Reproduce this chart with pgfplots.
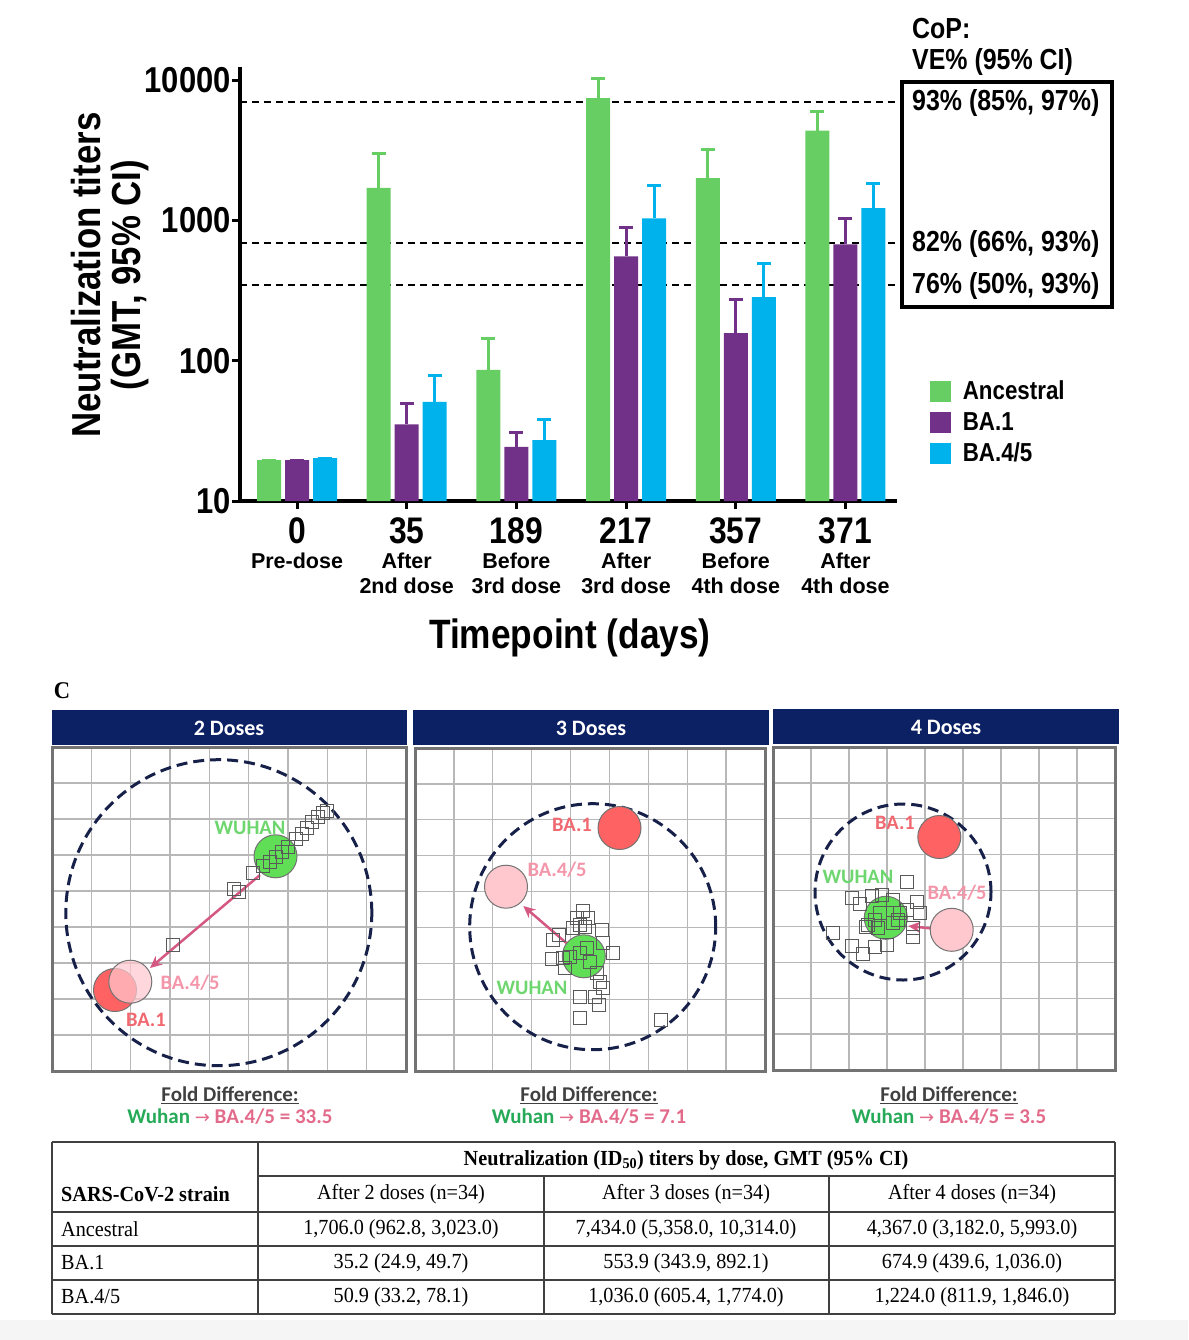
\documentclass[border=0pt]{standalone}
\usepackage{fontspec}
\setmainfont{Liberation Serif}
\newfontfamily\cnd[FakeStretch=0.86]{Liberation Sans}
\newfontfamily\arial{Liberation Sans}
\newfontfamily\calib{Carlito}
\newfontfamily\tms[FakeStretch=0.94]{Liberation Serif}
\newfontfamily\dejavu{DejaVu Sans}
\usepackage{pgfplots}
\pgfplotsset{compat=1.18}
\usepackage{pgfplotstable}
\usetikzlibrary{arrows.meta}

\definecolor{cgreen}{RGB}{102,206,98}
\definecolor{cpurple}{RGB}{113,49,137}
\definecolor{cblue}{RGB}{0,178,236}
\definecolor{hnavy}{RGB}{12,32,100}
\definecolor{cnavy}{RGB}{22,32,72}
\definecolor{wgreen}{RGB}{96,222,86}
\definecolor{bared}{RGB}{255,98,98}
\definecolor{bapink}{RGB}{255,200,206}
\definecolor{lgreen}{RGB}{110,214,110}
\definecolor{lred}{RGB}{240,104,112}
\definecolor{lpink}{RGB}{244,150,170}
\definecolor{apink}{RGB}{212,88,130}
\definecolor{fgreen}{RGB}{38,170,88}
\definecolor{fpink}{RGB}{226,106,138}

% GMT and upper 95% CI, per timepoint
\pgfplotstableread{
x g    gu    p     pu    b    bu
0 19.6 19.6  19.6  19.6  20.2 20.2
1 1706 3023  35.2  49.7  50.9 78.1
2 86   145   24.3  31    27.2 38.4
3 7434 10314 553.9 892.1 1036 1774
4 2004 3177  157   271   284  497
5 4367 5993  674.9 1036  1224 1846
}\titers

% antigenic map positions (sera), read from the maps
\pgfplotstableread{
x y
173.3 945
234 889.3
239 892.3
253.3 873.3
262.7 866
270 861.7
275.7 856.7
281.7 852.3
288.3 846.7
296 839.3
301.7 834.3
306.7 828.3
312.3 821.7
318.3 816.7
323.3 813.3
326.7 810.7
}\seratwo
\pgfplotstableread{
x y
582.7 910.7
576.7 918.3
588.3 918.3
580 925
585 926.7
573.3 928.3
601.7 930
559.3 935
553.3 940
603.3 943.3
613.3 953.3
551.7 959.3
563.3 958.3
586.7 948.3
580 953.3
590 961.7
570 956.7
565 968.3
596.7 973.3
600 981.7
602.7 988.3
580 996.7
595 996.7
599.3 1005
580 1018.3
660.7 1020
}\serathree
\pgfplotstableread{
x y
906.7 881.7
851.7 898.3
860 904
871.7 896
881.7 895
892.7 900
916.7 901.7
920 913.3
868.3 925
866 926.7
875 920
880 913.3
900 913.3
906.7 910
913.3 928.3
913.3 936.7
833.3 933.3
851.7 945.7
863.3 954
875 946.7
886.7 945
893.3 923.3
878.3 928.3
898.3 920
}\serafour

\newcommand\fnum{\cnd\bfseries\fontsize{37}{30}\selectfont}
\newcommand\lab[1]{{\calib\bfseries\fontsize{20.5}{22}\selectfont #1}}

\pgfplotsset{
  mapaxis/.style={scale only axis, y dir=reverse, grid=major,
    grid style={black!28, line width=1.3pt},
    axis line style={black!55, line width=3pt},
    xticklabel=\empty, yticklabel=\empty, major tick length=0pt},
  serum/.style={only marks, mark=square, mark size=6.5pt,
    mark options={draw=black!65, line width=1pt}},
  antigen/.style={only marks, mark=*, mark size=21.5pt,
    mark options={fill=#1, draw=black!55, line width=1pt}},
  antigenfaded/.style={only marks, mark=*, mark size=21.5pt,
    mark options={fill=#1, draw=black!55, line width=1pt, fill opacity=0.72}},
  zone/.style={only marks, mark=o, mark size=#1,
    mark options={draw=cnavy, line width=3pt, dash pattern=on 11pt off 6pt}},
  shift/.style={-{Stealth[length=12pt,width=11pt]}, color=apink, line width=2.5pt},
}

\begin{document}
\begin{tikzpicture}[x=1pt,y=1pt]
\path (0,0) rectangle (1188,-1340);
\fill[black!4] (0,-1320) rectangle (1188,-1340);

% ---------- bar chart ----------
\begin{axis}[
  at={(240pt,-501pt)}, anchor=south west,
  scale only axis, width=657pt, height=434pt,
  ymode=log, ymin=10, ymax=12400,
  xmin=-0.52, xmax=5.47,
  axis x line*=bottom, axis y line*=left,
  axis line style={line width=4pt, black},
  every tick/.style={black, line width=3pt},
  major tick length=8pt, tick align=outside,
  ytick={10,100,1000,10000}, yticklabels={10,100,1000,10000},
  yminorticks=false,
  yticklabel style={font=\cnd\bfseries\fontsize{36}{36}\selectfont, inner sep=0pt, xshift=-1pt},
  xtick={0,1,2,3,4,5},
  xticklabels={{{\fnum 0}\\Pre-dose},{{\fnum 35}\\After\\2nd dose},
    {{\fnum 189}\\Before\\3rd dose},{{\fnum 217}\\After\\3rd dose},
    {{\fnum 357}\\Before\\4th dose},{{\fnum 371}\\After\\4th dose}},
  xticklabel style={align=center, inner sep=0pt, yshift=-8pt,
    font=\arial\bfseries\fontsize{21.5}{25}\selectfont},
  ybar, bar width=24pt, log origin=infty,
  legend style={at={(1.045,0.182)}, anchor=west, draw=none, fill=none,
    font=\cnd\bfseries\fontsize{26}{26}\selectfont, row sep=10pt, column sep=12pt,
    nodes={inner sep=0pt}},
  legend cell align=left,
  legend image code/.code={\fill[#1] (0pt,-10.5pt) rectangle (21pt,10.5pt);},
]
\addplot[black, dash pattern=on 7pt off 5pt, line width=2pt, forget plot, sharp plot]
  coordinates {(-0.52,6980) (5.47,6980)};
\addplot[black, dash pattern=on 7pt off 5pt, line width=2pt, forget plot, sharp plot]
  coordinates {(-0.52,690) (5.47,690)};
\addplot[black, dash pattern=on 7pt off 5pt, line width=2pt, forget plot, sharp plot]
  coordinates {(-0.52,347) (5.47,347)};

\addplot[fill=cgreen, draw=none, bar shift=-28pt,
  error bars/.cd, y dir=plus, y explicit,
  error bar style={cgreen, line width=3pt},
  error mark options={rotate=90, mark size=7pt, line width=3pt, cgreen}]
  table[x=x, y=g, y error plus expr=\thisrow{gu}-\thisrow{g}] {\titers};
\addlegendentry{Ancestral}
\addplot[fill=cpurple, draw=none, bar shift=0pt,
  error bars/.cd, y dir=plus, y explicit,
  error bar style={cpurple, line width=3pt},
  error mark options={rotate=90, mark size=7pt, line width=3pt, cpurple}]
  table[x=x, y=p, y error plus expr=\thisrow{pu}-\thisrow{p}] {\titers};
\addlegendentry{BA.1}
\addplot[fill=cblue, draw=none, bar shift=28pt,
  error bars/.cd, y dir=plus, y explicit,
  error bar style={cblue, line width=3pt},
  error mark options={rotate=90, mark size=7pt, line width=3pt, cblue}]
  table[x=x, y=b, y error plus expr=\thisrow{bu}-\thisrow{b}] {\titers};
\addlegendentry{BA.4/5}
\end{axis}

\node[rotate=90, align=center, font=\cnd\bfseries\fontsize{40.5}{40}\selectfont]
  at (110,-275) {Neutralization titers\\(GMT, 95\% CI)};
\node[font=\cnd\bfseries\fontsize{41}{41}\selectfont] at (570,-638) {Timepoint (days)};

\begin{scope}[every node/.style={anchor=west, inner sep=0pt,
    font=\cnd\bfseries\fontsize{29}{29}\selectfont}]
\node at (912,-29) {CoP:};
\node at (912,-62) {VE\% (95\% CI)};
\node at (912,-103) {93\% (85\%, 97\%)};
\node at (912,-244) {82\% (66\%, 93\%)};
\node at (912,-286) {76\% (50\%, 93\%)};
\end{scope}
\draw[line width=4pt] (902,-82) rectangle (1112,-307);

% ---------- panel C ----------
\node[font=\tms\bfseries\fontsize{24}{24}\selectfont] at (62,-691) {C};

\fill[hnavy] (52,-710) rectangle (407,-745);
\fill[hnavy] (413,-710) rectangle (769,-745);
\fill[hnavy] (773,-709) rectangle (1119,-744);
\begin{scope}[every node/.style={text=white, font=\calib\bfseries\fontsize{22}{22}\selectfont}]
\node at (229,-728) {2 Doses};
\node at (591,-728) {3 Doses};
\node at (946,-727) {4 Doses};
\end{scope}

% 2 doses
\begin{axis}[mapaxis, at={(52pt,-1071pt)}, anchor=south west,
  width=354pt, height=324pt, xmin=52, xmax=406, ymin=747, ymax=1071,
  xtick={52,91.33,130.67,170,209.33,248.67,288,327.33,366.67,406},
  ytick={747,783,...,1071}]
\addplot[zone=153pt] coordinates {(218.8,912.7)};
\addplot[antigen=wgreen] coordinates {(275.5,856.3)};
\addplot[serum] table {\seratwo};
\addplot[antigen=bared] coordinates {(115,990)};
\addplot[antigenfaded=bapink] coordinates {(130.3,981.7)};
\addplot[shift] coordinates {(260,875) (150,968)};
\node[text=lgreen] at (250,828) {\lab{WUHAN}};
\node[text=lpink] at (190,983) {\lab{BA.4/5}};
\node[text=lred] at (146,1020) {\lab{BA.1}};
\end{axis}

% 3 doses
\begin{axis}[mapaxis, at={(415pt,-1071pt)}, anchor=south west,
  width=350pt, height=323pt, xmin=415, xmax=765, ymin=748, ymax=1071,
  xtick={415,453.9,492.8,531.7,570.6,609.4,648.3,687.2,726.1,765},
  ytick={748,783.9,819.8,855.7,891.6,927.4,963.3,999.2,1035.1,1071}]
\addplot[zone=123pt] coordinates {(592.7,926.7)};
\addplot[antigen=wgreen] coordinates {(583.8,956.3)};
\addplot[serum] table {\serathree};
\addplot[antigen=bared] coordinates {(619.5,828)};
\addplot[antigen=bapink] coordinates {(506,886.7)};
\addplot[shift] coordinates {(566.7,943.3) (523.3,906)};
\node[text=lred] at (572,825) {\lab{BA.1}};
\node[text=lpink] at (557,870) {\lab{BA.4/5}};
\node[text=lgreen] at (532,988) {\lab{WUHAN}};
\end{axis}

% 4 doses
\begin{axis}[mapaxis, at={(773pt,-1070pt)}, anchor=south west,
  width=342pt, height=323pt, xmin=773, xmax=1115, ymin=747, ymax=1070,
  xtick={773,811,...,1115},
  ytick={747,782.9,818.8,854.7,890.6,926.4,962.3,998.2,1034.1,1070}]
\addplot[zone=88pt] coordinates {(903,892)};
\addplot[antigen=wgreen] coordinates {(885.8,917.8)};
\addplot[serum] table {\serafour};
\addplot[antigen=bared] coordinates {(939.3,837)};
\addplot[antigen=bapink] coordinates {(951.7,929.8)};
\addplot[shift] coordinates {(930,928.3) (908.3,926)};
\node[text=lred] at (895,823) {\lab{BA.1}};
\node[text=lgreen] at (858,877) {\lab{WUHAN}};
\node[text=lpink] at (957,893) {\lab{BA.4/5}};
\end{axis}

\begin{scope}[every node/.style={font=\calib\bfseries\fontsize{21}{22}\selectfont}]
\node[text=black!75] at (230,-1095) {\underline{Fold Difference:}};
\node[text=black!75] at (589,-1095) {\underline{Fold Difference:}};
\node[text=black!75] at (949,-1095) {\underline{Fold Difference:}};
\node at (230,-1117) {\textcolor{fgreen}{Wuhan} \textcolor{fpink}{{\dejavu\mdseries\fontsize{18}{20}\selectfont →} BA.4/5 = 33.5}};
\node at (589,-1117) {\textcolor{fgreen}{Wuhan} \textcolor{fpink}{{\dejavu\mdseries\fontsize{18}{20}\selectfont →} BA.4/5 = 7.1}};
\node at (949,-1117) {\textcolor{fgreen}{Wuhan} \textcolor{fpink}{{\dejavu\mdseries\fontsize{18}{20}\selectfont →} BA.4/5 = 3.5}};
\end{scope}

% ---------- table ----------
\begin{scope}[line width=1.8pt, draw=black!75]
\draw (52,-1142) -- (1115,-1142);
\draw (258,-1176) -- (1115,-1176);
\foreach \yy in {1212,1246,1280,1314} \draw (52,-\yy) -- (1115,-\yy);
\draw (52,-1142) -- (52,-1314);
\draw (258,-1142) -- (258,-1314);
\draw (544,-1176) -- (544,-1314);
\draw (829,-1176) -- (829,-1314);
\draw (1115,-1142) -- (1115,-1314);
\end{scope}
\begin{scope}[every node/.style={font=\tms\fontsize{21.5}{24}\selectfont, inner sep=0pt}]
\node[font=\tms\bfseries\fontsize{21.5}{24}\selectfont] at (686,-1160)
  {Neutralization (ID\textsubscript{50}) titers by dose, GMT (95\% CI)};
\node[anchor=west, font=\tms\bfseries\fontsize{21.5}{24}\selectfont] at (61,-1194) {SARS-CoV-2 strain};
\node at (401,-1194) {After 2 doses (n=34)};
\node at (686,-1194) {After 3 doses (n=34)};
\node at (972,-1194) {After 4 doses (n=34)};
\node[anchor=west] at (61,-1229) {Ancestral};
\node[anchor=west] at (61,-1263) {BA.1};
\node[anchor=west] at (61,-1297) {BA.4/5};
\node at (401,-1229) {1,706.0 (962.8, 3,023.0)};
\node at (686,-1229) {7,434.0 (5,358.0, 10,314.0)};
\node at (972,-1229) {4,367.0 (3,182.0, 5,993.0)};
\node at (401,-1263) {35.2 (24.9, 49.7)};
\node at (686,-1263) {553.9 (343.9, 892.1)};
\node at (972,-1263) {674.9 (439.6, 1,036.0)};
\node at (401,-1297) {50.9 (33.2, 78.1)};
\node at (686,-1297) {1,036.0 (605.4, 1,774.0)};
\node at (972,-1297) {1,224.0 (811.9, 1,846.0)};
\end{scope}
\end{tikzpicture}
\end{document}
